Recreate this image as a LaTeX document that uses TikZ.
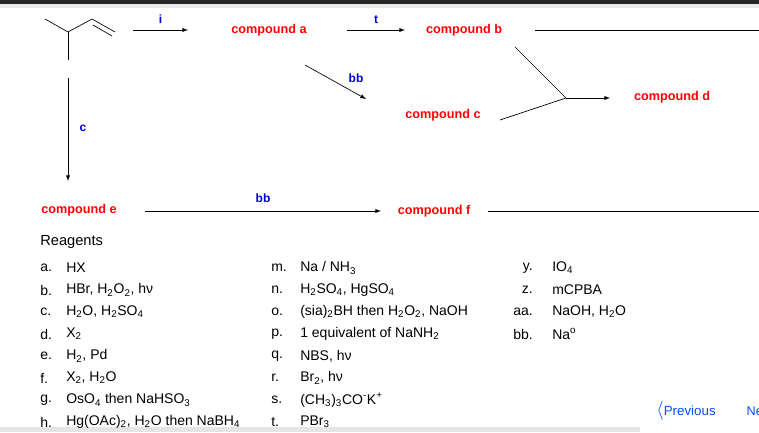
\documentclass[tikz,border=0pt]{standalone}
\usepackage{fontspec}
\setmainfont{Liberation Sans}
\newcommand\chs[1]{\textsubscript{#1}}
\newcommand\chp[1]{\textsuperscript{#1}}
\begin{document}
\begin{tikzpicture}[x=0.75pt,y=-0.75pt,
  cmp/.style={text=red,font=\fontsize{9.5}{11}\selectfont\bfseries},
  lab/.style={text=blue!85!black,font=\fontsize{9}{11}\selectfont\bfseries},
  ln/.style={line width=0.5pt},
  arr/.style={line width=0.5pt,-latex},
  rg/.style={anchor=west,inner sep=0,font=\fontsize{10.5}{12}\selectfont}]
\useasboundingbox (0,0) rectangle (759,432);
\fill[black!85] (0,0) rectangle (759,4);
\fill[black!8] (0,4) rectangle (759,8);
\fill[black!10] (0,427) rectangle (640,432);
% molecule
\draw[ln] (45,19) -- (68,32) -- (92,19) -- (115,32);
\draw[ln] (93,25) -- (112,36);
\draw[ln] (68,32) -- (68,60);
\node[cmp] (a) at (269,30) {compound a};
\node[cmp] (b) at (464,30) {compound b};
\node[cmp] (c) at (443,115) {compound c};
\node[cmp] (d) at (672,97) {compound d};
\node[cmp] (e) at (79,210) {compound e};
\node[cmp] (f) at (434,211) {compound f};
\coordinate (s0) at (133,30); \coordinate (s1) at (188,30);
\draw[arr] (s0) -- node[lab,above=1pt]{i} (s1);
\coordinate (t0) at (347,30); \coordinate (t1) at (405,30);
\draw[arr] (t0) -- node[lab,above=1pt]{t} (t1);
\coordinate (bl) at (535,30); \coordinate (br) at (759,30);
\draw[ln] (bl) -- (br);
\coordinate (j) at (566,98); \coordinate (b1) at (515,47); \coordinate (c1) at (500,120);
\coordinate (d0) at (610,98);
\draw[ln] (b1) -- (j) -- (c1);
\draw[arr] (j) -- (d0);
\coordinate (u0) at (305,65); \coordinate (u1) at (366,99);
\draw[arr] (u0) -- (u1);
\node[lab] at (356,78) {bb};
\coordinate (v0) at (68,78); \coordinate (v1) at (68,181);
\draw[arr] (v0) -- (v1);
\node[lab] at (83,128) {c};
\coordinate (w0) at (145,211); \coordinate (w1) at (381,211);
\draw[arr] (w0) -- node[lab,above=3pt]{bb} (w1);
\coordinate (fl) at (488,211); \coordinate (fr) at (759,211);
\draw[ln] (fl) -- (fr);
% reagents
\node[rg,font=\fontsize{11}{13}\selectfont] (rh) at (40,242) {Reagents};
\foreach \lb/\tx [count=\i from 0] in {
 a./HX, b./{HBr, H\chs{2}O\chs{2}, hν}, c./{H\chs{2}O, H\chs{2}SO\chs{4}}, d./X\chs{2},
 e./{H\chs{2}, Pd}, f./{X\chs{2}, H\chs{2}O}, g./{OsO\chs{4} then NaHSO\chs{3}},
 h./{Hg(OAc)\chs{2}, H\chs{2}O then NaBH\chs{4}}}{
 \node[rg] (l\i) at (40,268+22*\i) {\lb};
 \node[rg] (r\i) at (66,268+22*\i) {\tx};}
\foreach \lb/\tx [count=\i from 0] in {
 m./{Na / NH\chs{3}}, n./{H\chs{2}SO\chs{4}, HgSO\chs{4}}, o./{(sia)\chs{2}BH then H\chs{2}O\chs{2}, NaOH},
 p./{1 equivalent of NaNH\chs{2}}, q./{NBS, hν}, r./{Br\chs{2}, hν},
 s./{(CH\chs{3})\chs{3}CO\chp{-}K\chp{+}}, t./PBr\chs{3}}{
 \node[rg] (m\i) at (271,268+22*\i) {\lb};
 \node[rg] (n\i) at (300,268+22*\i) {\tx};}
\foreach \lb/\tx [count=\i from 0] in {
 y./IO\chs{4}, z./mCPBA, aa./{NaOH, H\chs{2}O}, bb./Na\chp{o}}{
 \node[rg,anchor=east] (p\i) at (533,268+22*\i) {\lb};
 \node[rg] (q\i) at (552,268+22*\i) {\tx};}
\node[text=blue!70!cyan,font=\fontsize{9.5}{11}\selectfont] (prev) at (686,411) {\Large$\langle$\normalsize Previous};
\node[text=blue!70!cyan,font=\fontsize{9.5}{11}\selectfont,anchor=west] (nx) at (742,411) {Next};
\end{tikzpicture}
\end{document}
